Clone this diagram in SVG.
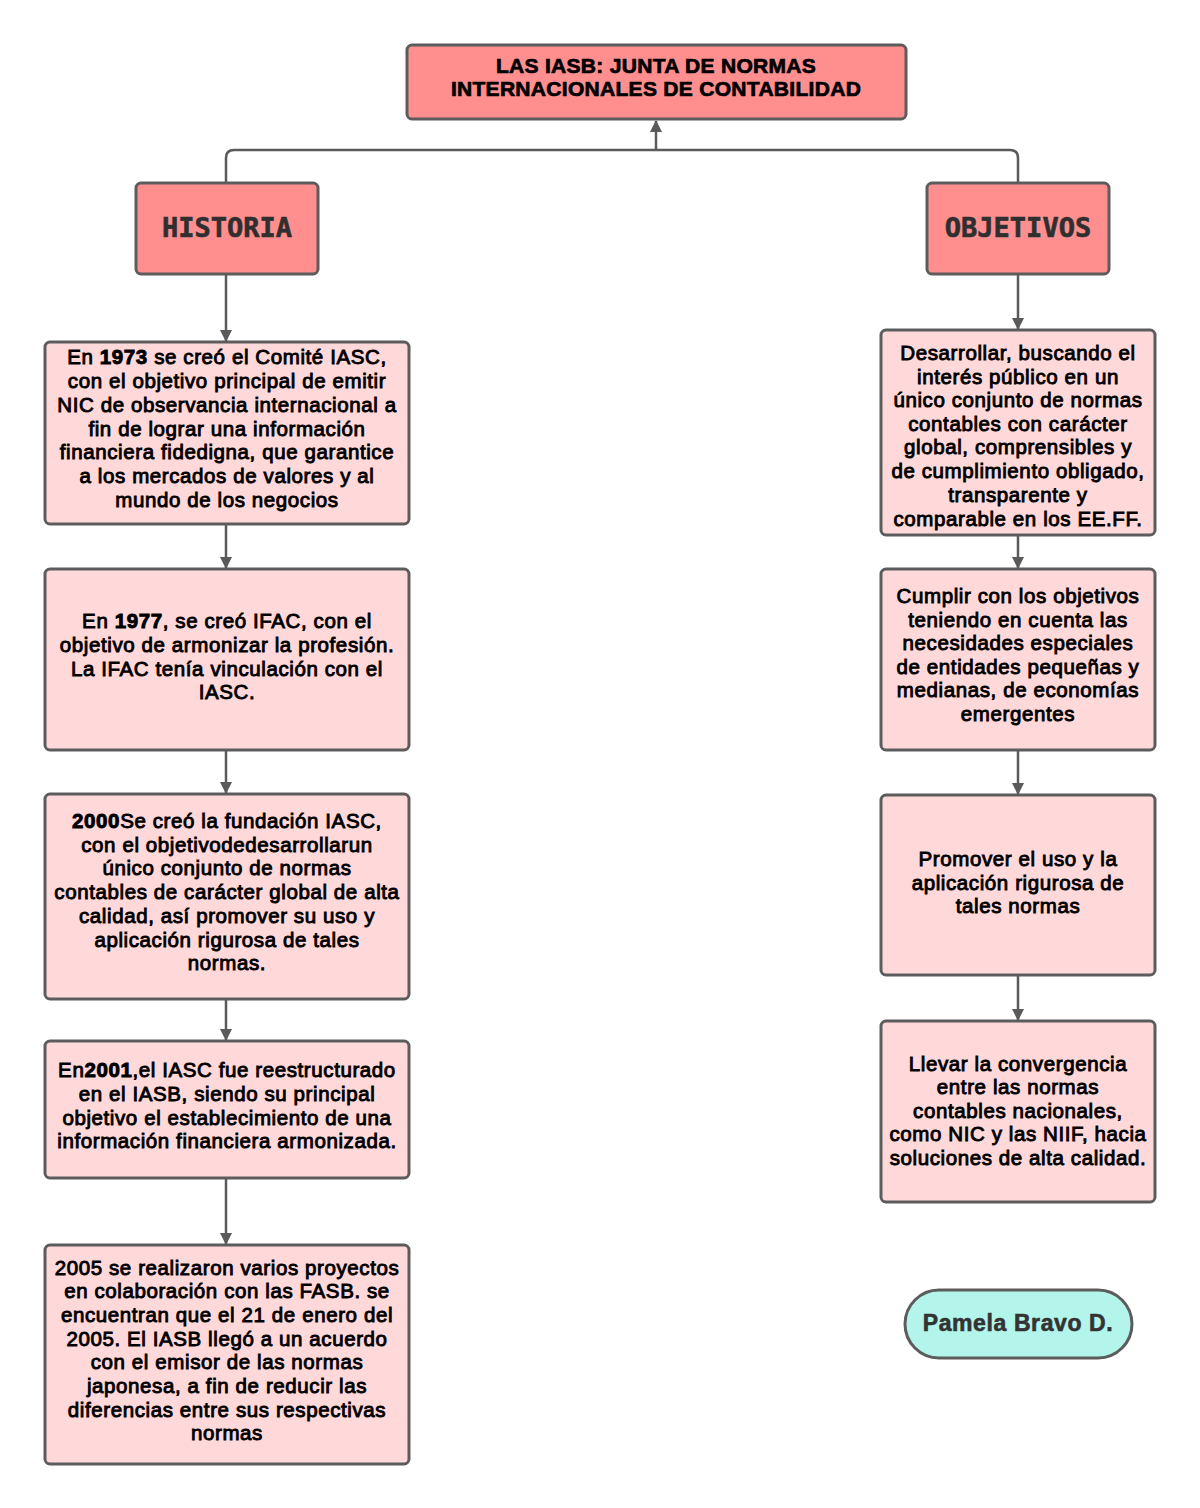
<svg xmlns="http://www.w3.org/2000/svg" width="1200" height="1508" viewBox="0 0 1200 1508">
<defs>
<marker id="arr" markerWidth="12" markerHeight="12" refX="11" refY="6" orient="auto" markerUnits="userSpaceOnUse" viewBox="0 0 12 12">
<path d="M0,0 L12,6 L0,12 Z" fill="#5a5a5a"/>
</marker>
<style>
.hdr{fill:#ff8f8f;stroke:#5c5c5c;stroke-width:3}
.box{fill:#ffd9d9;stroke:#5c5c5c;stroke-width:3}
.pill{fill:#b3f5ea;stroke:#5c5c5c;stroke-width:3}
.t{font-family:"Liberation Sans",Arial,sans-serif;font-size:20.5px;letter-spacing:0.6px;fill:#000;stroke:#000;stroke-width:0.9;text-anchor:middle}
.tt{font-family:"Liberation Sans",Arial,sans-serif;font-size:21px;font-weight:bold;letter-spacing:0.3px;fill:#000;stroke:#000;stroke-width:0.7;text-anchor:middle}
.mono{font-family:"DejaVu Sans Mono","Liberation Mono",monospace;font-size:27px;font-weight:bold;fill:#2f2f2f;stroke:#2f2f2f;stroke-width:0.6;text-anchor:middle}
.pt{font-family:"Liberation Sans",Arial,sans-serif;font-size:23px;font-weight:bold;letter-spacing:0.6px;fill:#333;stroke:#333;stroke-width:0.6;text-anchor:middle}
.b{font-weight:bold}
.c{fill:none;stroke:#5a5a5a;stroke-width:2.5}
</style>
</defs>

<g id="connectors">
<path class="c" d="M226,183 V158 Q226,150 234,150 H1010 Q1018,150 1018,158 V183"/>
<line class="c" x1="656" y1="150" x2="656" y2="121" marker-end="url(#arr)"/>
<line class="c" x1="226" y1="274" x2="226" y2="341" marker-end="url(#arr)"/>
<line class="c" x1="226" y1="524" x2="226" y2="568" marker-end="url(#arr)"/>
<line class="c" x1="226" y1="750" x2="226" y2="793" marker-end="url(#arr)"/>
<line class="c" x1="226" y1="999" x2="226" y2="1040" marker-end="url(#arr)"/>
<line class="c" x1="226" y1="1178" x2="226" y2="1244" marker-end="url(#arr)"/>
<line class="c" x1="1018" y1="274" x2="1018" y2="329" marker-end="url(#arr)"/>
<line class="c" x1="1018" y1="535" x2="1018" y2="568" marker-end="url(#arr)"/>
<line class="c" x1="1018" y1="750" x2="1018" y2="794" marker-end="url(#arr)"/>
<line class="c" x1="1018" y1="975" x2="1018" y2="1020" marker-end="url(#arr)"/>
</g>

<g id="title">
<rect class="hdr" x="407" y="45" width="499" height="74" rx="5"/>
<text class="tt" x="656" y="73">LAS IASB: JUNTA DE NORMAS</text>
<text class="tt" x="656" y="96">INTERNACIONALES DE CONTABILIDAD</text>
</g>

<g id="historia">
<rect class="hdr" x="136" y="183" width="182" height="91" rx="5"/>
<text class="mono" x="227" y="237">HISTORIA</text>
</g>

<g id="objetivos">
<rect class="hdr" x="927" y="183" width="182" height="91" rx="5"/>
<text class="mono" x="1018" y="237">OBJETIVOS</text>
</g>

<g id="h1">
<rect class="box" x="45" y="342" width="364" height="182" rx="5"/>
<text class="t" x="227" y="364">En <tspan class="b">1973</tspan> se creó el Comité IASC,</text>
<text class="t" x="227" y="388">con el objetivo principal de emitir</text>
<text class="t" x="227" y="412">NIC de observancia internacional a</text>
<text class="t" x="227" y="436">fin de lograr una información</text>
<text class="t" x="227" y="459">financiera fidedigna, que garantice</text>
<text class="t" x="227" y="483">a los mercados de valores y al</text>
<text class="t" x="227" y="507">mundo de los negocios</text>
</g>

<g id="h2">
<rect class="box" x="45" y="569" width="364" height="181" rx="5"/>
<text class="t" x="227" y="628">En <tspan class="b">1977</tspan>, se creó IFAC, con el</text>
<text class="t" x="227" y="652">objetivo de armonizar la profesión.</text>
<text class="t" x="227" y="676">La IFAC tenía vinculación con el</text>
<text class="t" x="227" y="699">IASC.</text>
</g>

<g id="h3">
<rect class="box" x="45" y="794" width="364" height="205" rx="5"/>
<text class="t" x="227" y="828"><tspan class="b">2000</tspan>Se creó la fundación IASC,</text>
<text class="t" x="227" y="852">con el objetivodedesarrollarun</text>
<text class="t" x="227" y="875">único conjunto de normas</text>
<text class="t" x="227" y="899">contables de carácter global de alta</text>
<text class="t" x="227" y="923">calidad, así promover su uso y</text>
<text class="t" x="227" y="947">aplicación rigurosa de tales</text>
<text class="t" x="227" y="970">normas.</text>
</g>

<g id="h4">
<rect class="box" x="45" y="1041" width="364" height="137" rx="5"/>
<text class="t" x="227" y="1077">En<tspan class="b">2001</tspan>,el IASC fue reestructurado</text>
<text class="t" x="227" y="1101">en el IASB, siendo su principal</text>
<text class="t" x="227" y="1125">objetivo el establecimiento de una</text>
<text class="t" x="227" y="1148">información financiera armonizada.</text>
</g>

<g id="h5">
<rect class="box" x="45" y="1245" width="364" height="219" rx="5"/>
<text class="t" x="227" y="1275">2005 se realizaron varios proyectos</text>
<text class="t" x="227" y="1298">en colaboración con las FASB. se</text>
<text class="t" x="227" y="1322">encuentran que el 21 de enero del</text>
<text class="t" x="227" y="1346">2005. El IASB llegó a un acuerdo</text>
<text class="t" x="227" y="1369">con el emisor de las normas</text>
<text class="t" x="227" y="1393">japonesa, a fin de reducir las</text>
<text class="t" x="227" y="1417">diferencias entre sus respectivas</text>
<text class="t" x="227" y="1440">normas</text>
</g>

<g id="o1">
<rect class="box" x="881" y="330" width="274" height="205" rx="5"/>
<text class="t" x="1018" y="360">Desarrollar, buscando el</text>
<text class="t" x="1018" y="384">interés público en un</text>
<text class="t" x="1018" y="407">único conjunto de normas</text>
<text class="t" x="1018" y="431">contables con carácter</text>
<text class="t" x="1018" y="454">global, comprensibles y</text>
<text class="t" x="1018" y="478">de cumplimiento obligado,</text>
<text class="t" x="1018" y="502">transparente y</text>
<text class="t" x="1018" y="526">comparable en los EE.FF.</text>
</g>

<g id="o2">
<rect class="box" x="881" y="569" width="274" height="181" rx="5"/>
<text class="t" x="1018" y="603">Cumplir con los objetivos</text>
<text class="t" x="1018" y="627">teniendo en cuenta las</text>
<text class="t" x="1018" y="650">necesidades especiales</text>
<text class="t" x="1018" y="674">de entidades pequeñas y</text>
<text class="t" x="1018" y="697">medianas, de economías</text>
<text class="t" x="1018" y="721">emergentes</text>
</g>

<g id="o3">
<rect class="box" x="881" y="795" width="274" height="180" rx="5"/>
<text class="t" x="1018" y="866">Promover el uso y la</text>
<text class="t" x="1018" y="890">aplicación rigurosa de</text>
<text class="t" x="1018" y="913">tales normas</text>
</g>

<g id="o4">
<rect class="box" x="881" y="1021" width="274" height="181" rx="5"/>
<text class="t" x="1018" y="1071">Llevar la convergencia</text>
<text class="t" x="1018" y="1094">entre las normas</text>
<text class="t" x="1018" y="1118">contables nacionales,</text>
<text class="t" x="1018" y="1141">como NIC y las NIIF, hacia</text>
<text class="t" x="1018" y="1165">soluciones de alta calidad.</text>
</g>

<g id="autor">
<rect class="pill" x="905" y="1290" width="227" height="68" rx="34"/>
<text class="pt" x="1018" y="1331">Pamela Bravo D.</text>
</g>
</svg>
